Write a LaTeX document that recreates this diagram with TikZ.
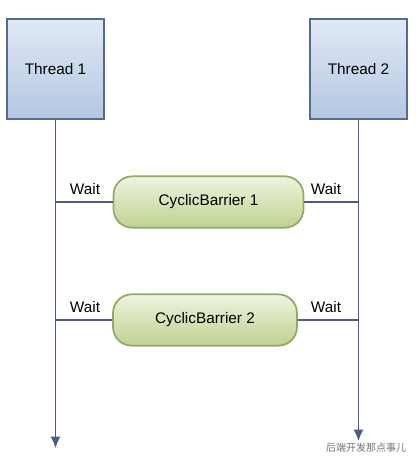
\documentclass[tikz,border=0pt]{standalone}
\usepackage{fontspec}
\setmainfont{Liberation Sans}
\newfontfamily\cjk{Noto Sans CJK SC}
\usetikzlibrary{arrows.meta}

\definecolor{threadtop}{HTML}{E0E9F5}
\definecolor{threadbot}{HTML}{B3C7E3}
\definecolor{threadline}{HTML}{56698F}
\definecolor{barriertop}{HTML}{EFF4DF}
\definecolor{barrierbot}{HTML}{BFD292}
\definecolor{barrierline}{HTML}{93A963}
\definecolor{flow}{HTML}{4B5B8A}

\tikzset{thread/.style={draw=threadline,line width=1.3pt,rectangle,top color=threadtop,bottom color=threadbot,
		minimum width=72.75pt,minimum height=75pt,inner sep=0pt,font=\fontsize{11.5}{13}\selectfont}}
\tikzset{barrier/.style={draw=barrierline,line width=1.3pt,rounded corners=14pt,top color=barriertop,bottom color=barrierbot,
		minimum height=38.5pt,inner sep=0pt,font=\fontsize{11.5}{13}\selectfont}}
\tikzstyle{wait}=[inner sep=0pt,font=\fontsize{11.5}{13}\selectfont]
\tikzstyle{flowline}=[draw=flow,line width=1pt]

\begin{document}
\begin{tikzpicture}[x=0.75pt,y=-0.75pt]
			\useasboundingbox (0,0) rectangle (415,465);
			\begin{scope}[>={Latex[length=8.5pt,width=7.5pt]}]
				\node (T1)[thread] at (55.5,69) {Thread 1};
				\node (T2)[thread] at (358.5,69) {Thread 2};
				\coordinate (e1) at (55.5,448);
				\coordinate (e2) at (358.5,441);
				
				\draw[->,flowline,flow] (T1) -- (e1);
				\draw[->,flowline,flow] (T2) -- (e2);
				
				\foreach \nr/\y/\cx/\w in {1/202/208.5/142.5, 2/320/205/138}{
					\node (B\nr)[barrier,minimum width=\w pt] at (\cx,\y) {CyclicBarrier \nr};
					\coordinate (L\nr) at (55.5,\y);
					\coordinate (R\nr) at (358.5,\y);
					\draw[flowline] (L\nr) -- (B\nr);
					\draw[flowline] (B\nr) -- (R\nr);
					\node (wl\nr)[wait] at (85,{\y-13}) {Wait};
					\node (wr\nr)[wait] at (326,{\y-13}) {Wait};
				}
				
				\node (wm)[inner sep=0pt,text=black!55,font=\cjk\fontsize{7.5}{9}\selectfont] at (366,448) {后端开发那点事儿};
			\end{scope}
		\end{tikzpicture}
\end{document}
